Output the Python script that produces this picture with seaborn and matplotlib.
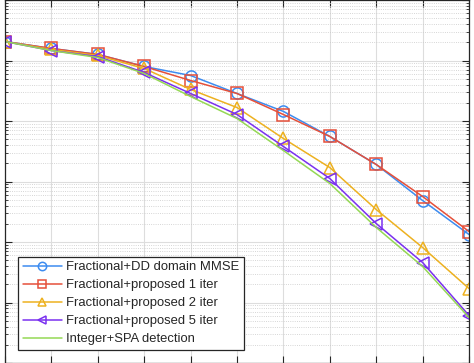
import matplotlib
matplotlib.use("Agg")
import matplotlib.pyplot as plt
import seaborn as sns
import pandas as pd
from matplotlib.lines import Line2D
from matplotlib.ticker import LogLocator, NullFormatter

# SNR points (x) and BER curves
snr = [0, 2, 4, 6, 8, 10, 12, 14, 16, 18, 20]
ber_dd_mmse = [0.206, 0.158, 0.126, 0.0796, 0.0565, 0.0285, 0.0144, 0.00555, 0.00191, 0.000485, 0.000133]
ber_prop_1 = [0.206, 0.158, 0.126, 0.0796, 0.0467, 0.0285, 0.0128, 0.00555, 0.00191, 0.000565, 0.000149]
ber_prop_2 = [0.206, 0.152, 0.121, 0.0738, 0.0332, 0.0167, 0.00514, 0.00170, 0.000344, 8.11e-5, 1.70e-5]
ber_prop_5 = [0.206, 0.146, 0.116, 0.0634, 0.0285, 0.0128, 0.00379, 0.00112, 0.000202, 4.58e-5, 6.09e-6]
ber_spa = [0.206, 0.146, 0.112, 0.0610, 0.0254, 0.0110, 0.00325, 0.000927, 0.000174, 3.94e-5, 5.65e-6]

labels = ["Fractional+DD domain MMSE", "Fractional+proposed 1 iter",
          "Fractional+proposed 2 iter", "Fractional+proposed 5 iter",
          "Integer+SPA detection"]
colors = ["#3d8cf0", "#e5503a", "#edb120", "#7a30f0", "#95d855"]
markers = ["o", "s", "^", "<", None]

sns.set_style("white")
plt.rcParams["font.family"] = ["Liberation Sans", "DejaVu Sans"]

fig = plt.figure(figsize=(4.74, 3.63), dpi=100)
ax = fig.add_axes([0.0105, 0.0, 0.979, 1.0])

series = [ber_dd_mmse, ber_prop_1, ber_prop_2, ber_prop_5, ber_spa]
for vals, col, mk in zip(series, colors, markers):
    df = pd.DataFrame({"snr": snr, "ber": vals})
    sns.lineplot(data=df, x="snr", y="ber", ax=ax, color=col,
                 marker=mk, markersize=8, markerfacecolor="none",
                 markeredgecolor=col, markeredgewidth=1.1, linewidth=1.1)

ax.set_yscale("log")
ax.set_xlim(0, 20)
ax.set_ylim(1e-6, 1e0)
ax.set_xticks(snr)
ax.yaxis.set_major_locator(LogLocator(base=10, numticks=10))
ax.yaxis.set_minor_locator(LogLocator(base=10, subs=range(2, 10), numticks=20))
ax.xaxis.set_major_formatter(NullFormatter())
ax.yaxis.set_major_formatter(NullFormatter())
ax.yaxis.set_minor_formatter(NullFormatter())
ax.set_xlabel("")
ax.set_ylabel("")

ax.grid(True, which="major", color="#dddddd", linewidth=0.8, linestyle="-")
ax.grid(True, which="minor", axis="y", color="#c8c8c8", linewidth=0.6, linestyle=":")
ax.tick_params(which="major", direction="in", length=5, width=0.8,
               top=True, right=True, bottom=True, left=True)
ax.tick_params(which="minor", direction="in", length=2.5, width=0.6,
               top=False, right=True, left=True, bottom=False)
for sp in ax.spines.values():
    sp.set_color("#262626")
    sp.set_linewidth(0.9)

# legend entries with smaller markers, as in the reference
handles = [Line2D([], [], color=c, marker=m, markersize=6, markerfacecolor="none",
                  markeredgecolor=c, markeredgewidth=1.1, linewidth=1.1)
           for c, m in zip(colors, markers)]
leg = ax.legend(handles, labels, loc="lower left", bbox_to_anchor=(0.028, 0.036),
                borderaxespad=0, fontsize=9.4, frameon=True, fancybox=False,
                framealpha=1, edgecolor="#262626", handlelength=3.0,
                handletextpad=0.35, labelspacing=0.45, borderpad=0.35)
leg.get_frame().set_linewidth(0.9)

fig.savefig("out.png", dpi=100)
